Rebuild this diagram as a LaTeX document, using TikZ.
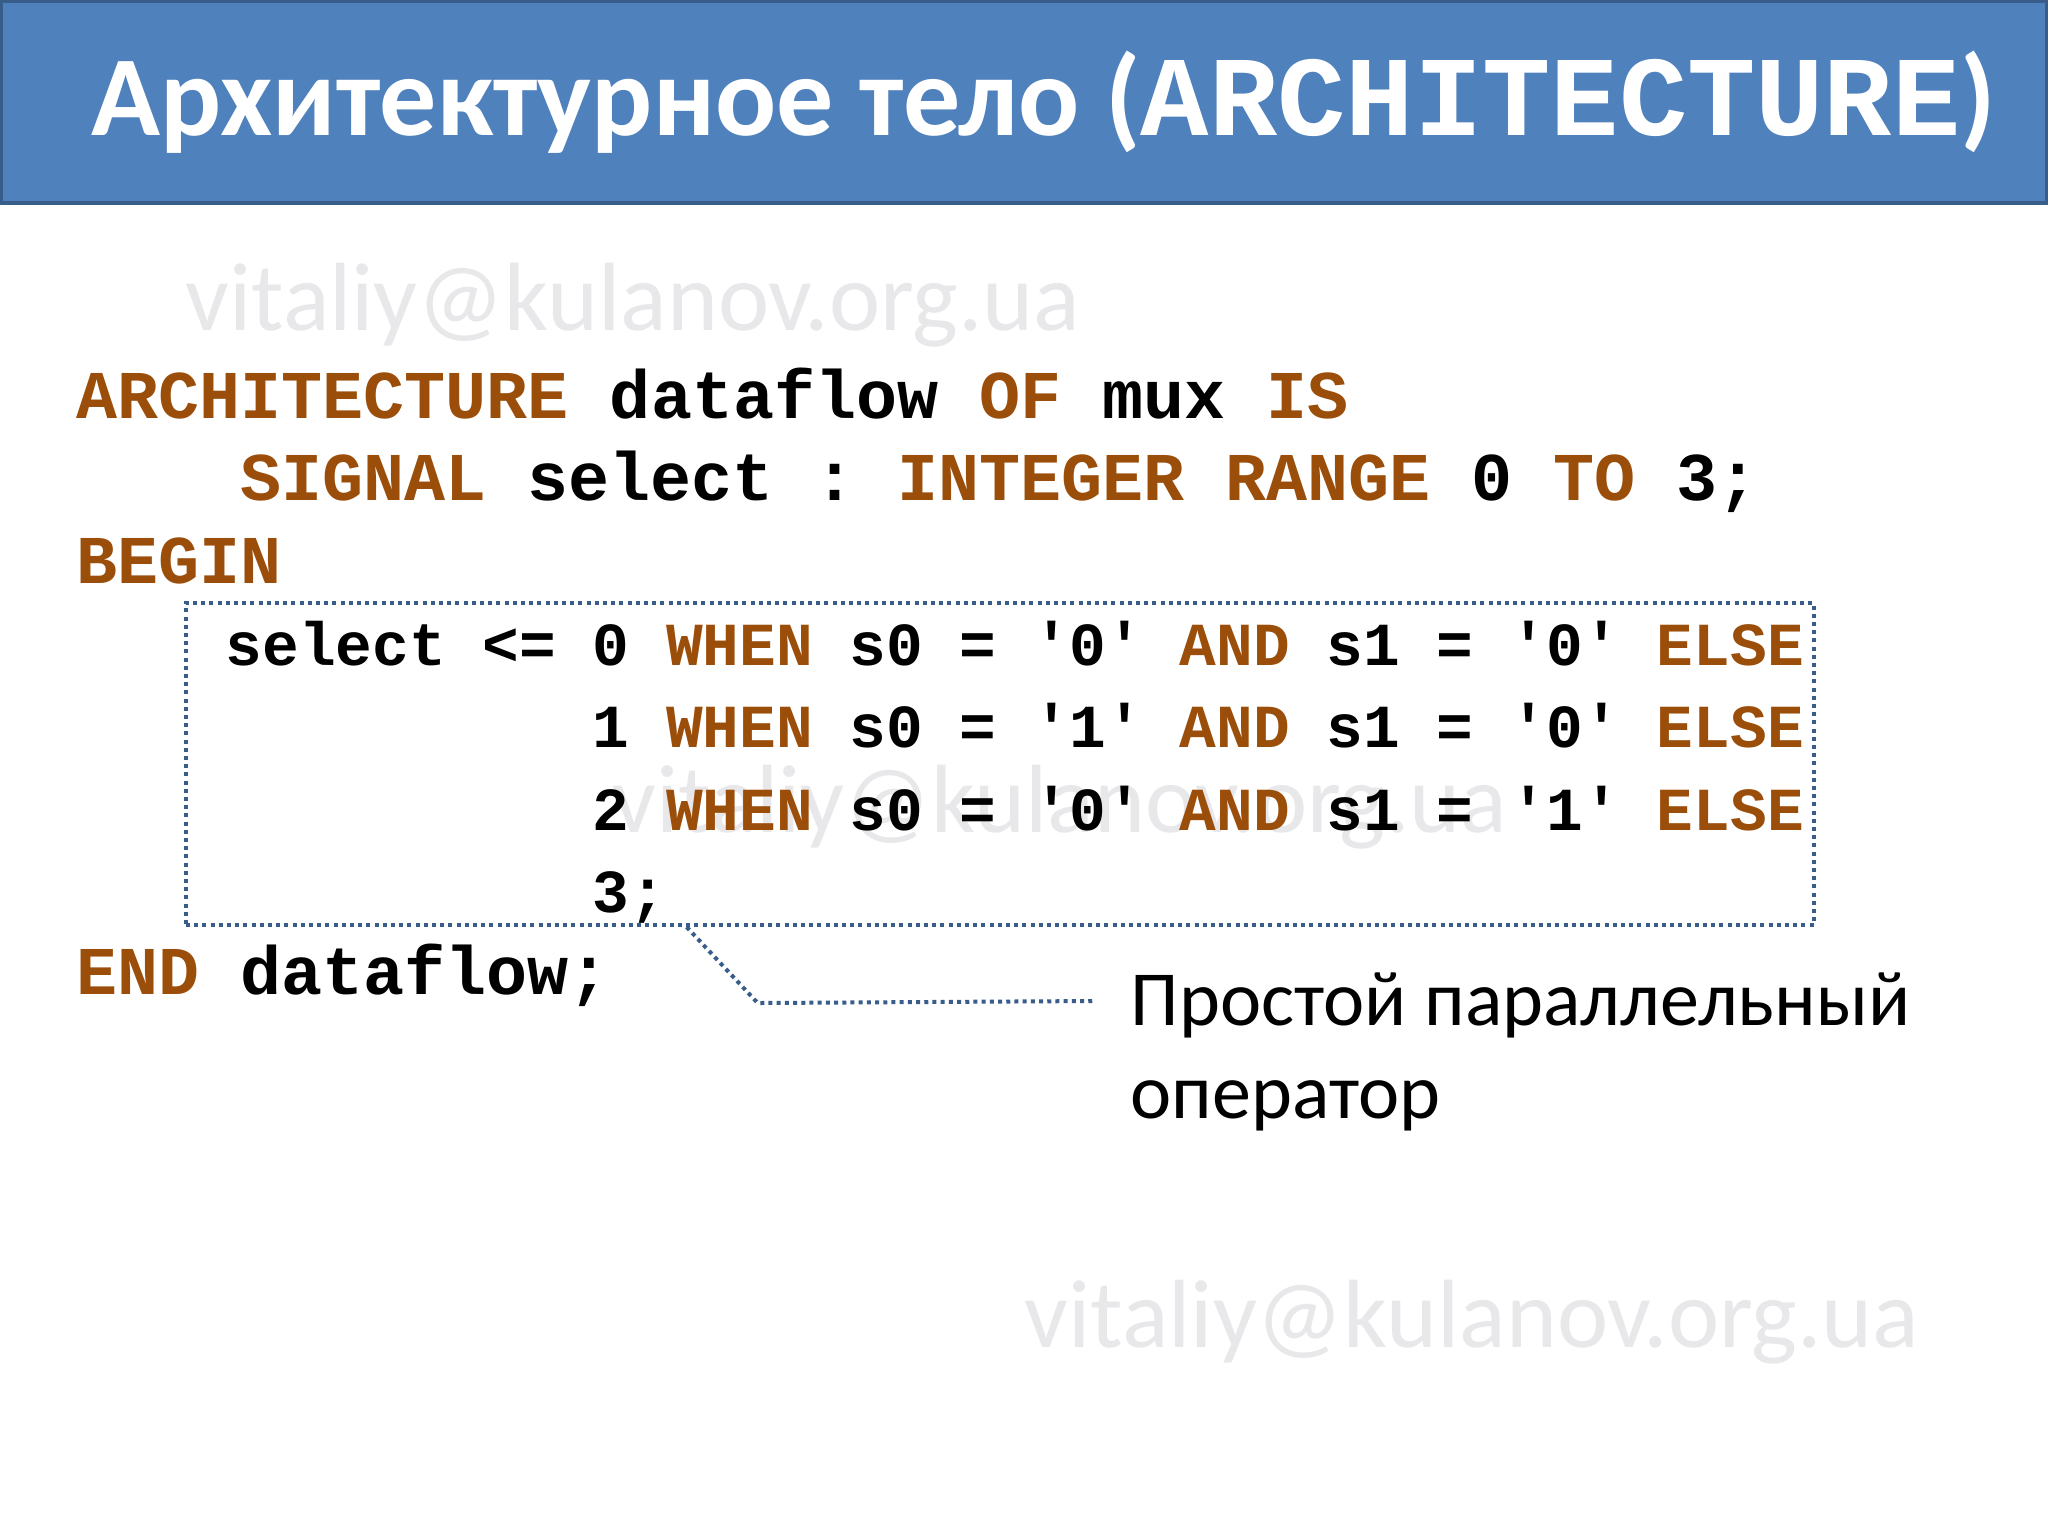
\documentclass[tikz,border=0pt]{standalone}
\usepackage{fontspec}
\setmainfont{Carlito}
\setmonofont{Liberation Mono}
\usetikzlibrary{calc}
\definecolor{slidebar}{RGB}{79,129,189}
\definecolor{slideedge}{RGB}{56,93,138}
\definecolor{kwbrown}{RGB}{155,78,10}
\definecolor{markgray}{RGB}{232,232,235}
\def\kw#1{\textcolor{kwbrown}{#1}}
\tikzset{
	codeline/.style={anchor=base west, inner sep=0pt, font=\ttfamily\bfseries\fontsize{19.45}{23}\selectfont},
	boxline/.style={anchor=base west, inner sep=0pt, font=\ttfamily\bfseries\fontsize{17.4}{21}\selectfont},
	dotline/.style={draw=slideedge, line width=0.4mm, dash pattern=on 0.4mm off 0.42mm},
	watermark/.style={anchor=base west, inner sep=0pt, text=markgray, font=\fontsize{27.6}{32}\selectfont}
}

\begin{document}
\frenchspacing
\begin{tikzpicture}[x=0.1mm, y=-0.1mm]
		%%%%% START %%%%%
		
		\useasboundingbox (0, 0) rectangle (2048, 1536);
		\fill[white] (0, 0) rectangle (2048, 1536);
		
		\draw[fill=slidebar, draw=slideedge, line width=0.35mm] (1, 1) rectangle (2047, 203);
		\node[anchor=base west, inner sep=0pt, text=white, font=\bfseries\fontsize{32.4}{38}\selectfont] (title) at (91, 135)
			{Архитектурное тело (\texttt{\fontsize{32.4}{38}\selectfont ARCHITECTURE})};
		
		\node[watermark] (mark1) at (185, 330) {vitaliy@kulanov.org.ua};
		\node[watermark] (mark2) at (612, 832) {vitaliy@kulanov.org.ua};
		\node[watermark] (mark3) at (1024, 1347) {vitaliy@kulanov.org.ua};
		
		\node[codeline] (arch) at (76, 418) {\kw{ARCHITECTURE} dataflow \kw{OF} mux \kw{IS}};
		\node[codeline] (sig) at (240, 500) {\kw{SIGNAL} select : \kw{INTEGER} \kw{RANGE} 0 \kw{TO} 3;};
		\node[codeline] (begin) at (76, 583) {\kw{BEGIN}};
		
		\node[dotline, minimum width=162.8mm, minimum height=32.2mm, inner sep=0pt] (stmt) at (1000, 764) {};
		\node[boxline] (when0) at (225, 665) {select <= 0 \kw{WHEN} s0 = '0' \kw{AND} s1 = '0' \kw{ELSE}};
		\node[boxline] (when1) at (592, 747) {1 \kw{WHEN} s0 = '1' \kw{AND} s1 = '0' \kw{ELSE}};
		\node[boxline] (when2) at (592, 830) {2 \kw{WHEN} s0 = '0' \kw{AND} s1 = '1' \kw{ELSE}};
		\node[boxline] (when3) at (592, 912) {3;};
		
		\node[codeline] (end) at (76, 994) {\kw{END} dataflow;};
		
		\node[anchor=base west, inner sep=0pt, align=left, font=\fontsize{22.2}{26.2}\selectfont] (note) at (1130, 1118)
			{Простой параллельный\\оператор};
		\coordinate (tap) at ($(stmt.south west)!0.308!(stmt.south east)$);
		\draw[dotline] (tap) -- ++(71, 76) -- ([xshift=-3.6mm, yshift=11.7mm]note.base west);
		
		%%%%% END %%%%%
	\end{tikzpicture}
\end{document}
